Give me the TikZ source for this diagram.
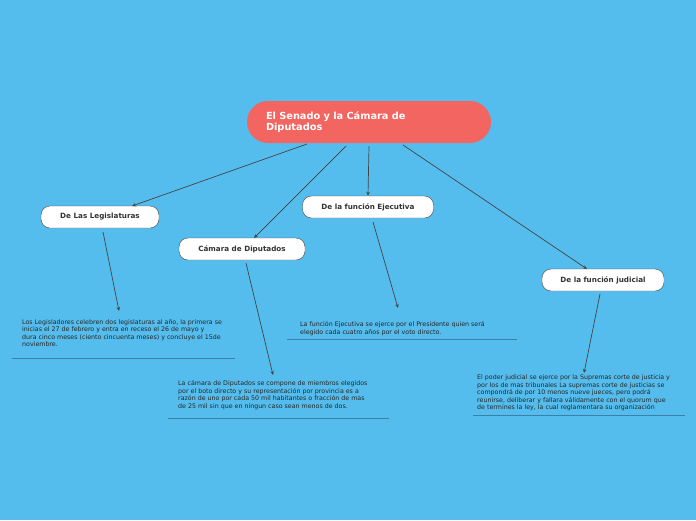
\documentclass[tikz,border=0pt]{standalone}
\usepackage{fontspec}
\setmainfont{DejaVu Sans}
\usetikzlibrary{arrows.meta}
\definecolor{bgblue}{HTML}{55BDED}
\definecolor{rootred}{HTML}{F26560}
\definecolor{linegray}{HTML}{444444}
\definecolor{ruleblue}{HTML}{3C7FA8}
\begin{document}
\begin{tikzpicture}[x=1pt,y=-1pt,
		->,>={Stealth[length=4pt,width=3.5pt]},
		root node/.style={rectangle,rounded corners=21pt,fill=rootred,minimum width=244pt,minimum height=42pt,
			text=white,font=\fontsize{9.8}{11}\selectfont\bfseries,align=left,text width=206pt},
		main node/.style={rectangle,rounded corners=9pt,draw=linegray,fill=white,minimum height=22pt,
			font=\fontsize{7.2}{8}\selectfont\bfseries,text=black!80},
		note/.style={anchor=north west,align=left,inner sep=0pt,font=\fontsize{6.3}{7.6}\selectfont,text=black!85}]
		
		\useasboundingbox[fill=bgblue] (0,0) rectangle (696,520);
		
		\node[root node] (root) at (369,122) {El Senado y la Cámara de\\Diputados};
		\node[main node, minimum width=118pt] (leg) at (100,217) {De Las  Legislaturas};
		\node[main node, minimum width=126pt] (cam) at (242,249) {Cámara de  Diputados};
		\node[main node, minimum width=131pt] (eje) at (368,207) {De la función Ejecutiva};
		\node[main node, minimum width=122pt] (jud) at (603,280) {De la función judicial};
		
		\node[note] (legt) at (22,319) {Los Legisladores celebren dos legislaturas al año, la primera se\\inicias el 27 de febrero y entra en receso el 26  de mayo y\\dura cinco meses (ciento cincuenta meses) y concluye el 15de\\noviembre.};
		\node[note] (camt) at (178,380.5) {La cámara de Diputados se compone de miembros elegidos\\por el boto directo y su representación por provincia es a\\razón  de uno por cada 50 mil habitantes o fracción  de mas\\de  25 mil sin  que en ningun caso sean menos de dos.};
		\node[note] (ejet) at (300,321.5) {La función Ejecutiva se ejerce por el Presidente quien será\\elegido cada cuatro años por el voto  directo.};
		\node[note] (judt) at (477,374.5) {El poder judicial se  ejerce por la Supremas corte de justicia y\\por los de mas tribunales La supremas corte de justicias se\\compondrá de por 10 menos nueve jueces, pero podrá\\reunirse, deliberar y fallara válidamente con el quorum  que\\de termines la ley, la cual reglamentara su organización};
		
		% rules under the notes
		\coordinate (l1a) at (12,358); \coordinate (l1b) at (235,358);
		\coordinate (l2a) at (168,418); \coordinate (l2b) at (389,418);
		\coordinate (l3a) at (287,339.5); \coordinate (l3b) at (517,339.5);
		\coordinate (l4a) at (473,415); \coordinate (l4b) at (685,415);
		\draw[-,ruleblue,line width=0.8pt] (l1a) -- (l1b);
		\draw[-,ruleblue,line width=0.8pt] (l2a) -- (l2b);
		\draw[-,ruleblue,line width=0.8pt] (l3a) -- (l3b);
		\draw[-,ruleblue,line width=0.8pt] (l4a) -- (l4b);
		
		\coordinate (a1) at (119,311); \coordinate (a2) at (273,375);
		\coordinate (a3) at (398,308); \coordinate (a4) at (584,373);
		
		\path[every edge/.append style={draw=linegray,line width=0.7pt}]
		(307,144) edge (132,206)
		(346,146) edge (254,238)
		(369,146) edge (eje.north)
		(403,145) edge (587,269)
		(103,232) edge (a1)
		(246,263) edge (a2)
		(373,222) edge (a3)
		(600,294) edge (a4);
		\end{tikzpicture}
\end{document}
